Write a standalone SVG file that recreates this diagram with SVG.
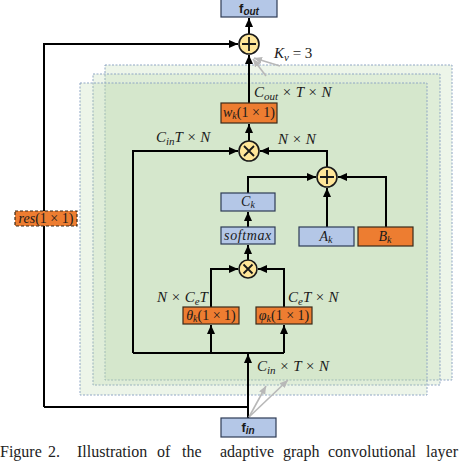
<svg xmlns="http://www.w3.org/2000/svg" width="474" height="462" viewBox="0 0 474 462">
<style>
.panel{fill:#b6d7a8;fill-opacity:0.25;stroke:#8fa6c4;stroke-width:1;stroke-dasharray:2 1.5}
.blue{fill:#b4c7e7;stroke:#2e3b55;stroke-width:1.2}
.orange{fill:#ed7d31;stroke:#3a2a1a;stroke-width:1.2}
.op{fill:#ffe699;stroke:#1a1a1a;stroke-width:1.6}
.sym{stroke:#1a1a1a;stroke-width:1.8;fill:none}
.con{fill:none;stroke:#000;stroke-width:2}
.gray{fill:none;stroke:#b8b8b8;stroke-width:1.6}
.math{font-family:"Liberation Serif",serif;font-style:italic;font-size:15px;fill:#1a1a1a}
.box{font-family:"Liberation Serif",serif;font-style:italic;font-size:14px;fill:#1a1a1a;text-anchor:middle}
.bold{font-family:"Liberation Sans",sans-serif;font-weight:bold;font-size:13px;fill:#1a1a1a;text-anchor:middle}
.cap{font-family:"Liberation Serif",serif;font-size:16px;fill:#222}
</style>
<defs>
<marker id="ah" markerUnits="userSpaceOnUse" markerWidth="9" markerHeight="8" refX="9" refY="4" orient="auto"><path d="M0,0 L9,4 L0,8 z" fill="#000"/></marker>
<marker id="gh" markerUnits="userSpaceOnUse" markerWidth="8" markerHeight="7" refX="8" refY="3.5" orient="auto"><path d="M0,0 L8,3.5 L0,7 z" fill="#b8b8b8"/></marker>
</defs>
<rect width="474" height="462" fill="#fff"/>
<g id="panels">
<rect class="panel" x="105" y="65" width="347" height="315"/>
<rect class="panel" x="93" y="74" width="347" height="311"/>
<rect class="panel" x="80" y="83" width="347" height="312"/>
</g>
<g id="connectors">
<path class="con" d="M249,103 V55" marker-end="url(#ah)"/>
<path class="con" d="M249,34 V18" marker-end="url(#ah)"/>
<path class="con" d="M44,407 V44 H238" marker-end="url(#ah)"/>
<path class="con" d="M44,407 H248"/>
<path class="con" d="M248,418 V354" marker-end="url(#ah)"/>
<path class="con" d="M133,353 H284"/>
<path class="con" d="M133,353 V151 H238" marker-end="url(#ah)"/>
<path class="con" d="M211,353 V325" marker-end="url(#ah)"/>
<path class="con" d="M284,353 V325" marker-end="url(#ah)"/>
<path class="con" d="M249,141 V124" marker-end="url(#ah)"/>
<path class="con" d="M327,167 V151 H260" marker-end="url(#ah)"/>
<path class="con" d="M248,193 V177 H316" marker-end="url(#ah)"/>
<path class="con" d="M386,227 V177 H338" marker-end="url(#ah)"/>
<path class="con" d="M327,227 V188" marker-end="url(#ah)"/>
<path class="con" d="M248,227 V212" marker-end="url(#ah)"/>
<path class="con" d="M248,260 V245" marker-end="url(#ah)"/>
<path class="con" d="M211,307 V269 H238" marker-end="url(#ah)"/>
<path class="con" d="M284,307 V269 H258" marker-end="url(#ah)"/>
<path class="gray" d="M249,417 L266,386" marker-end="url(#gh)"/>
<path class="gray" d="M249,417 L288,380" marker-end="url(#gh)"/>
<path class="gray" d="M280,66 L254,58" marker-end="url(#gh)"/>
<path class="gray" d="M266,76 L253,59" marker-end="url(#gh)"/>
</g>
<g id="f_out"><rect class="blue" x="221" y="-2" width="56" height="19"/><text class="bold" x="249" y="13">f<tspan font-style="italic" font-size="10" dy="2">out</tspan></text></g>
<g id="plus_top"><circle class="op" cx="249" cy="44" r="10"/><path class="sym" d="M242,44 H256 M249,37 V51"/></g>
<g id="kv"><text class="math" x="274" y="58" font-size="17">K<tspan font-size="11" dy="3">v</tspan><tspan dy="-3" font-style="normal"> = 3</tspan></text></g>
<g id="w_k"><rect class="orange" x="221" y="103" width="56" height="20"/><text class="box" x="249" y="117">w<tspan font-size="10" dy="2">k</tspan><tspan dy="-2" font-style="normal">(1 × 1)</tspan></text></g>
<g id="otimes_mid"><circle class="op" cx="249" cy="151" r="10"/><path class="sym" d="M244,146 L254,156 M254,146 L244,156"/></g>
<g id="plus_mid"><circle class="op" cx="327" cy="177" r="10"/><path class="sym" d="M320,177 H334 M327,170 V184"/></g>
<g id="C_k"><rect class="blue" x="221" y="193" width="54" height="18"/><text class="box" x="248" y="206">C<tspan font-size="10" dy="2">k</tspan></text></g>
<g id="softmax"><rect class="blue" x="221" y="227" width="54" height="17"/><text class="box" x="248" y="240" letter-spacing="0.6">softmax</text></g>
<g id="A_k"><rect class="blue" x="299" y="227" width="55" height="19"/><text class="box" x="326" y="241">A<tspan font-size="10" dy="2">k</tspan></text></g>
<g id="B_k"><rect class="orange" x="358" y="227" width="55" height="19"/><text class="box" x="385" y="241">B<tspan font-size="10" dy="2">k</tspan></text></g>
<g id="otimes_low"><circle class="op" cx="248" cy="269" r="9"/><path class="sym" d="M243.5,264.5 L252.5,273.5 M252.5,264.5 L243.5,273.5"/></g>
<g id="theta_k"><rect class="orange" x="183" y="307" width="56" height="17"/><text class="box" x="211" y="320">θ<tspan font-size="10" dy="2">k</tspan><tspan dy="-2" font-style="normal">(1 × 1)</tspan></text></g>
<g id="phi_k"><rect class="orange" x="256" y="307" width="56" height="17"/><text class="box" x="284" y="320">φ<tspan font-size="10" dy="2">k</tspan><tspan dy="-2" font-style="normal">(1 × 1)</tspan></text></g>
<g id="res"><rect class="orange" x="15" y="211" width="62" height="15" stroke-dasharray="3 2"/><text class="box" x="46" y="223">res<tspan font-style="normal">(1 × 1)</tspan></text></g>
<g id="f_in"><rect class="blue" x="221" y="418" width="55" height="19"/><text class="bold" x="248" y="432">f<tspan font-style="italic" font-size="10" dy="2">in</tspan></text></g>
<g id="labels">
<text class="math" x="254" y="97">C<tspan font-size="11" dy="3">out</tspan><tspan dy="-3"> × T × N</tspan></text>
<text class="math" x="156" y="142">C<tspan font-size="11" dy="3">in</tspan><tspan dy="-3">T × N</tspan></text>
<text class="math" x="278" y="144">N × N</text>
<text class="math" x="157" y="302">N × C<tspan font-size="11" dy="3">e</tspan><tspan dy="-3">T</tspan></text>
<text class="math" x="288" y="302">C<tspan font-size="11" dy="3">e</tspan><tspan dy="-3">T × N</tspan></text>
<text class="math" x="257" y="371">C<tspan font-size="11" dy="3">in</tspan><tspan dy="-3"> × T × N</tspan></text>
</g>
<g id="caption"><text class="cap" y="457"><tspan x="0">Figure</tspan><tspan x="48">2.</tspan><tspan x="77">Illustration</tspan><tspan x="157">of</tspan><tspan x="182">the</tspan><tspan x="220">adaptive</tspan><tspan x="283">graph</tspan><tspan x="328">convolutional</tspan><tspan x="426">layer</tspan></text></g>
</svg>
